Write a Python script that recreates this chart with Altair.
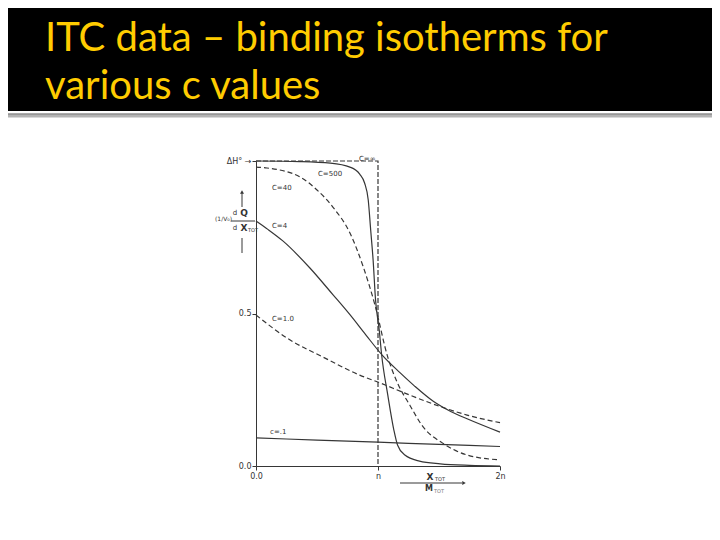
import pandas as pd
import altair as alt

# curves
# x: X_tot / M_tot in units of n (0 .. 2n), y: (1/V0) dQ/dX_tot relative to dH (0 .. 1)
inf_x = [0.0, 1.0, 1.0]
inf_y = [1.0, 1.0, 0.0]

c500_x = [0.0, 0.36, 0.61, 0.77, 0.85, 0.89, 0.92, 0.94, 0.96, 0.98, 1.01, 1.03,
          1.08, 1.13, 1.16, 1.22, 1.34, 1.51, 1.75, 2.0]
c500_y = [1.0, 0.998, 0.993, 0.98, 0.957, 0.928, 0.872, 0.774, 0.675, 0.544, 0.446, 0.364,
          0.233, 0.118, 0.069, 0.036, 0.016, 0.007, 0.002, 0.0]

c40_x = [0.0, 0.09, 0.36, 0.5, 0.63, 0.77, 0.88, 0.975, 1.08, 1.16, 1.26, 1.37, 1.53, 1.73, 2.0]
c40_y = [0.98, 0.977, 0.948, 0.905, 0.849, 0.764, 0.652, 0.528, 0.357, 0.272, 0.2, 0.128,
         0.075, 0.036, 0.02]

c4_x = [0.0, 0.1, 0.22, 0.44, 0.63, 0.77, 0.9, 1.04, 1.18, 1.3, 1.45, 1.6, 1.73, 2.0]
c4_y = [0.803, 0.775, 0.738, 0.65, 0.562, 0.496, 0.43, 0.361, 0.306, 0.262, 0.213, 0.178,
        0.155, 0.111]

c1_x = [0.0, 0.28, 0.55, 0.85, 1.02, 1.22, 1.51, 1.73, 2.0]
c1_y = [0.495, 0.413, 0.357, 0.298, 0.272, 0.239, 0.195, 0.167, 0.142]

c01_x = [0.0, 0.5, 1.0, 1.5, 2.0]
c01_y = [0.092, 0.085, 0.078, 0.071, 0.064]

label_text = ["C=∞", "C=500", "C=40", "C=4", "C=1.0", "c=.1"]
label_x = [0.844, 0.508, 0.131, 0.131, 0.131, 0.115]
label_y = [1.007, 0.957, 0.911, 0.787, 0.482, 0.111]

title_lines = ["ITC data – binding isotherms for", "various c values"]

INK = "#363636"


def curve(name, xs, ys):
    return pd.DataFrame({"x": xs, "y": ys, "curve": name})


solid = pd.concat([curve("c=500", c500_x, c500_y), curve("c=4", c4_x, c4_y),
                   curve("c=.1", c01_x, c01_y)])
dashed = pd.concat([curve("c=40", c40_x, c40_y), curve("c=1.0", c1_x, c1_y)])
step = curve("c=inf", inf_x, inf_y)
labels = pd.DataFrame({"x": label_x, "y": label_y, "text": label_text})

x_enc = alt.X("x:Q", scale=alt.Scale(domain=[0, 2], nice=False, zero=False),
              axis=alt.Axis(values=[0, 1, 2], title=None, grid=False, tickSize=4,
                            labelExpr="datum.value == 0 ? '0.0' : datum.value == 1 ? 'n' : '2n'",
                            labelFlush=False, labelOverlap=False, labelPadding=2,
                            labelFont="DejaVu Sans", labelFontSize=8, labelColor="#333",
                            domainColor=INK, tickColor=INK))
y_enc = alt.Y("y:Q", scale=alt.Scale(domain=[0, 1], nice=False, zero=False),
              axis=alt.Axis(values=[0, 0.5, 1], title=None, grid=False, tickSize=4,
                            labelExpr="datum.value == 1 ? 'ΔH° →' : format(datum.value, '.1f')",
                            labelOverlap=False, labelPadding=1,
                            labelFont="DejaVu Sans", labelFontSize=8, labelColor="#333",
                            domainColor=INK, tickColor=INK))

solid_lines = alt.Chart(solid).mark_line(color=INK, strokeWidth=1.2, interpolate="monotone").encode(
    x=x_enc, y=y_enc, detail="curve:N")
dashed_lines = alt.Chart(dashed).mark_line(color=INK, strokeWidth=1.2, strokeDash=[5, 3],
                                           interpolate="monotone").encode(
    x="x:Q", y="y:Q", detail="curve:N")
step_line = alt.Chart(step).mark_line(color=INK, strokeWidth=1.2, strokeDash=[5, 2]).encode(
    x="x:Q", y="y:Q")
curve_labels = alt.Chart(labels).mark_text(align="left", baseline="middle", font="DejaVu Sans",
                                           fontSize=7, color="#333").encode(
    x="x:Q", y="y:Q", text="text:N")

one = pd.DataFrame({"k": [0]})


def note(text, x, y, size=8, align="center", color="#333", weight="normal", font="DejaVu Sans"):
    return alt.Chart(pd.DataFrame({"t": [text]})).mark_text(
        align=align, baseline="middle", fontSize=size, color=color, fontWeight=weight, font=font
    ).encode(x=alt.value(x), y=alt.value(y), text="t:N")


def seg(x1, y1, x2, y2, color=INK, width=1.0):
    return alt.Chart(one).mark_rule(color=color, strokeWidth=width).encode(
        x=alt.value(x1), y=alt.value(y1), x2=alt.value(x2), y2=alt.value(y2))


def head(x, y, shape):
    return alt.Chart(one).mark_point(shape=shape, filled=True, size=16, color=INK, opacity=1).encode(
        x=alt.value(x), y=alt.value(y))


# slide header (pixel positions relative to the plot origin)
header = alt.Chart(one).mark_rect(color="black").encode(
    x=alt.value(-260), x2=alt.value(470), y=alt.value(-170), y2=alt.value(-50))
rule_band = alt.Chart(one).mark_rect(color="#b4b4b4").encode(
    x=alt.value(-260), x2=alt.value(470), y=alt.value(-47.5), y2=alt.value(-43.5))
rule_dark = seg(-260, -47, 470, -47, color="#7a7a7a", width=1)


def title_line(text, y):
    return alt.Chart(pd.DataFrame({"t": [text]})).mark_text(
        align="left", baseline="alphabetic", font="Lato", fontSize=40, color="#FFCC00"
    ).encode(x=alt.value(-211), y=alt.value(y), text="t:N")


layers = [
    header, rule_band, rule_dark,
    title_line(title_lines[0], -110),
    title_line(title_lines[1], -62),
    solid_lines, dashed_lines, step_line, curve_labels,
    # y axis title: (1/V0) dQ / dX_TOT with arrows
    note("(1/V₀)", -24, 58, size=6, align="right"),
    note("d", -21, 52, size=7),
    note("Q", -12, 52, size=9, weight="bold"),
    seg(-25, 60, -1, 60),
    note("d", -21, 67, size=7),
    note("X", -12, 67, size=9, weight="bold"),
    note("TOT", -3, 69, size=5),
    seg(-14, 46, -14, 32),
    head(-14, 31, "triangle-up"),
    seg(-14, 77, -14, 92),
    # x axis title: X_TOT / M_TOT with arrow
    note("X", 174, 316, size=9, weight="bold"),
    note("TOT", 184, 318, size=5),
    note("M", 173, 328, size=8, weight="bold"),
    note("TOT", 183, 330, size=5, color="#777"),
    seg(144, 322, 206, 322),
    head(208, 322, "triangle-right"),
]

chart = alt.layer(*layers).properties(
    width=244, height=305,
    padding={"left": 248, "top": 153, "right": 212, "bottom": 60},
    autosize=alt.AutoSizeParams(type="none"),
    background="white",
).configure_view(strokeWidth=0)

chart.save("out.html", embed_options={"renderer": "svg", "actions": False})
